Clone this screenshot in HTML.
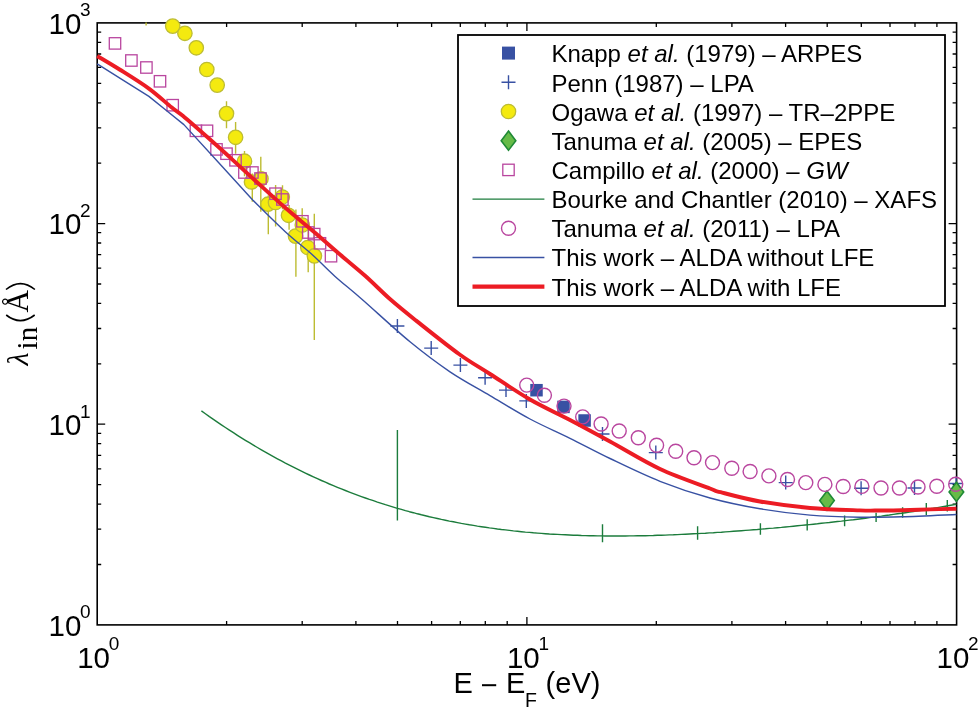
<!DOCTYPE html><html><head><meta charset="utf-8"><style>html,body{margin:0;padding:0;background:#fff;width:979px;height:709px;overflow:hidden}svg{display:block;will-change:transform}text{font-family:"Liberation Sans",sans-serif;fill:#000}.s{font-family:"Liberation Serif",serif}</style></head><body>
<svg width="979" height="709" viewBox="0 0 979 709">
<rect width="979" height="709" fill="#fff"/>
<rect x="97.2" y="22.9" width="859.4" height="602.0" fill="none" stroke="#000" stroke-width="1.6"/>
<path d="M226.6,624.9v-4M226.6,22.9v4M302.2,624.9v-4M302.2,22.9v4M355.9,624.9v-4M355.9,22.9v4M397.5,624.9v-4M397.5,22.9v4M431.6,624.9v-4M431.6,22.9v4M460.3,624.9v-4M460.3,22.9v4M485.3,624.9v-4M485.3,22.9v4M507.2,624.9v-4M507.2,22.9v4M526.9,624.9v-8M526.9,22.9v8M656.3,624.9v-4M656.3,22.9v4M731.9,624.9v-4M731.9,22.9v4M785.6,624.9v-4M785.6,22.9v4M827.2,624.9v-4M827.2,22.9v4M861.3,624.9v-4M861.3,22.9v4M890.0,624.9v-4M890.0,22.9v4M915.0,624.9v-4M915.0,22.9v4M936.9,624.9v-4M936.9,22.9v4M97.2,564.5h4M956.6,564.5h-4M97.2,529.2h4M956.6,529.2h-4M97.2,504.1h4M956.6,504.1h-4M97.2,484.6h4M956.6,484.6h-4M97.2,468.8h4M956.6,468.8h-4M97.2,455.3h4M956.6,455.3h-4M97.2,443.7h4M956.6,443.7h-4M97.2,433.4h4M956.6,433.4h-4M97.2,424.2h8M956.6,424.2h-8M97.2,363.8h4M956.6,363.8h-4M97.2,328.5h4M956.6,328.5h-4M97.2,303.4h4M956.6,303.4h-4M97.2,284.0h4M956.6,284.0h-4M97.2,268.1h4M956.6,268.1h-4M97.2,254.7h4M956.6,254.7h-4M97.2,243.0h4M956.6,243.0h-4M97.2,232.7h4M956.6,232.7h-4M97.2,223.6h8M956.6,223.6h-8M97.2,163.2h4M956.6,163.2h-4M97.2,127.8h4M956.6,127.8h-4M97.2,102.8h4M956.6,102.8h-4M97.2,83.3h4M956.6,83.3h-4M97.2,67.4h4M956.6,67.4h-4M97.2,54.0h4M956.6,54.0h-4M97.2,42.3h4M956.6,42.3h-4M97.2,32.1h4M956.6,32.1h-4" stroke="#000" stroke-width="1.3" fill="none"/>
<text x="48.5" y="635.6999999999999" font-size="29.5">10</text><text x="80.0" y="618.1999999999999" font-size="19">0</text>
<text x="48.5" y="435.03333333333336" font-size="29.5">10</text><text x="80.0" y="417.53333333333336" font-size="19">1</text>
<text x="48.5" y="234.36666666666667" font-size="29.5">10</text><text x="80.0" y="216.86666666666667" font-size="19">2</text>
<text x="48.5" y="33.699999999999974" font-size="29.5">10</text><text x="80.0" y="16.199999999999974" font-size="19">3</text>
<text x="77.2" y="667.5" font-size="29.5">10</text><text x="108.7" y="650.0" font-size="19">0</text>
<text x="506.9" y="667.5" font-size="29.5">10</text><text x="538.4" y="650.0" font-size="19">1</text>
<text x="936.6" y="667.5" font-size="29.5">10</text><text x="968.1" y="650.0" font-size="19">2</text>
<text x="453.6" y="692.5" font-size="29">E</text><rect x="482" y="684.2" width="14.2" height="2" fill="#000"/><text x="506" y="692.5" font-size="29">E</text><text x="525" y="706.5" font-size="19.5">F</text><text x="545.6" y="692.5" font-size="29">(eV)</text>
<g transform="translate(27.9,365) rotate(-90)"><text class="s" x="-0.5" y="0" font-size="30" font-style="italic">λ</text><text class="s" x="15.6" y="9.1" font-size="29">in</text><text class="s" x="52.5" y="0" font-size="31">Å</text></g>
<path d="M6.2,315Q20.3,326.2 34.7,315M6,289.5Q20.5,277.6 34.9,289.5" fill="none" stroke="#000" stroke-width="1.6"/>
<g fill="#3851a3"><rect x="530.25" y="383.95" width="12.5" height="12.5"/><rect x="557.25" y="400.65" width="12.5" height="12.5"/><rect x="578.35" y="414.25" width="12.5" height="12.5"/></g>
<path d="M390.4,326h14M397.4,319v14M424.2,348.1h14M431.2,341.1v14M453.4,365.1h14M460.4,358.1v14M478.1,377.8h14M485.1,370.8v14M499,390.1h14M506,383.1v14M519.3,400.9h14M526.3,393.9v14M595.5,434h14M602.5,427v14M648.8,452.6h14M655.8,445.6v14M778.7,482.6h14M785.7,475.6v14M854.1,488.2h14M861.1,481.2v14M907.5,488h14M914.5,481v14M949.1,483.5h14M956.1,476.5v14" stroke="#3851a3" stroke-width="1.4"/>
<path d="M146.1,22.6V25.4M226.5,101.2V128.3M235.6,122.1V153.7M244.5,151V176.2M252.3,173.6V201.7M260.8,156.8V211.8M268.3,195.2V234.3M275.6,185V226.5M282.5,185.2V209.2M289.1,205V229.8M295.9,209.5V276.8M302.2,208.2V231.7M308.2,220V272.2M314.3,213.8V340" stroke="#bdbc32" stroke-width="1.4"/>
<g fill="#f4ea0f" stroke="#bdbc32" stroke-width="1.3"><circle cx="172.7" cy="26.1" r="7.2"/><circle cx="184.9" cy="33.3" r="7.2"/><circle cx="196.3" cy="47.8" r="7.2"/><circle cx="206.8" cy="69.5" r="7.2"/><circle cx="217.2" cy="85.1" r="7.2"/><circle cx="226.5" cy="113.6" r="7.2"/><circle cx="235.6" cy="137.3" r="7.2"/><circle cx="244.5" cy="161.2" r="7.2"/><circle cx="251.5" cy="182" r="7.2"/><circle cx="261" cy="178.8" r="7.2"/><circle cx="268" cy="204.2" r="7.2"/><circle cx="275.5" cy="202.5" r="7.2"/><circle cx="282.3" cy="197" r="7.2"/><circle cx="288.5" cy="215.3" r="7.2"/><circle cx="295.5" cy="236.1" r="7.2"/><circle cx="302.3" cy="225" r="7.2"/><circle cx="307.8" cy="247.5" r="7.2"/><circle cx="314.4" cy="255.9" r="7.2"/></g>
<g fill="#66bb48" stroke="#1f8a36" stroke-width="1.6"><path d="M827,491.0L834.3,500.6L827,510.20000000000005L819.7,500.6Z"/><path d="M956.4,482.29999999999995L963.6999999999999,491.9L956.4,501.5L949.1,491.9Z"/></g>
<g fill="none" stroke="#b9469f" stroke-width="1.3"><rect x="109.30" y="37.70" width="11.4" height="11.4"/><rect x="125.70" y="54.80" width="11.4" height="11.4"/><rect x="140.70" y="61.80" width="11.4" height="11.4"/><rect x="154.30" y="75.60" width="11.4" height="11.4"/><rect x="167.00" y="99.50" width="11.4" height="11.4"/><rect x="190.20" y="125.10" width="11.4" height="11.4"/><rect x="201.30" y="125.10" width="11.4" height="11.4"/><rect x="210.80" y="143.70" width="11.4" height="11.4"/><rect x="220.80" y="148.00" width="11.4" height="11.4"/><rect x="229.80" y="154.60" width="11.4" height="11.4"/><rect x="238.70" y="166.80" width="11.4" height="11.4"/><rect x="246.70" y="166.80" width="11.4" height="11.4"/><rect x="254.80" y="172.80" width="11.4" height="11.4"/><rect x="269.80" y="188.00" width="11.4" height="11.4"/><rect x="276.70" y="193.80" width="11.4" height="11.4"/><rect x="296.70" y="215.60" width="11.4" height="11.4"/><rect x="302.60" y="226.80" width="11.4" height="11.4"/><rect x="308.50" y="228.40" width="11.4" height="11.4"/><rect x="314.30" y="237.60" width="11.4" height="11.4"/><rect x="325.30" y="250.50" width="11.4" height="11.4"/></g>
<path d="M201.4,410.9 L205.4,413.7 L209.4,416.6 L213.4,419.3 L217.4,422.1 L221.4,424.8 L225.4,427.5 L229.4,430.1 L233.4,432.7 L237.4,435.3 L241.4,437.8 L245.4,440.3 L249.4,442.7 L253.4,445.1 L257.4,447.5 L261.4,449.8 L265.4,452.1 L269.4,454.4 L273.4,456.6 L277.4,458.8 L281.4,460.9 L285.4,463.1 L289.4,465.1 L293.4,467.2 L297.4,469.2 L301.4,471.1 L305.4,473.1 L309.4,475.0 L313.4,476.8 L317.4,478.7 L321.4,480.5 L325.4,482.2 L329.4,484.0 L333.4,485.6 L337.4,487.3 L341.4,488.9 L345.4,490.5 L349.4,492.1 L353.4,493.6 L357.4,495.1 L361.4,496.6 L365.4,498.0 L369.4,499.4 L373.4,500.7 L377.4,502.1 L381.4,503.4 L385.4,504.7 L389.4,505.9 L393.4,507.1 L397.4,508.3 L401.4,509.4 L405.4,510.6 L409.4,511.7 L413.4,512.7 L417.4,513.8 L421.4,514.8 L425.4,515.7 L429.4,516.7 L433.4,517.6 L437.4,518.5 L441.4,519.4 L445.4,520.2 L449.4,521.1 L453.4,521.8 L457.4,522.6 L461.4,523.4 L465.4,524.1 L469.4,524.8 L473.4,525.4 L477.4,526.1 L481.4,526.7 L485.4,527.3 L489.4,527.9 L493.4,528.4 L497.4,529.0 L501.4,529.5 L505.4,529.9 L509.4,530.4 L513.4,530.9 L517.4,531.3 L521.4,531.7 L525.4,532.1 L529.4,532.4 L533.4,532.8 L537.4,533.1 L541.4,533.4 L545.4,533.7 L549.4,534.0 L553.4,534.2 L557.4,534.4 L561.4,534.6 L565.4,534.8 L569.4,535.0 L573.4,535.2 L577.4,535.3 L581.4,535.5 L585.4,535.6 L589.4,535.7 L593.4,535.8 L597.4,535.9 L601.4,535.9 L605.4,536.0 L609.4,536.0 L613.4,536.0 L617.4,536.0 L621.4,536.0 L625.4,536.0 L629.4,535.9 L633.4,535.9 L637.4,535.8 L641.4,535.7 L645.4,535.7 L649.4,535.6 L653.4,535.5 L657.4,535.3 L661.4,535.2 L665.4,535.1 L669.4,534.9 L673.4,534.8 L677.4,534.6 L681.4,534.4 L685.4,534.2 L689.4,534.0 L693.4,533.8 L697.4,533.6 L701.4,533.4 L705.4,533.2 L709.4,532.9 L713.4,532.7 L717.4,532.4 L721.4,532.2 L725.4,531.9 L729.4,531.6 L733.4,531.3 L737.4,531.0 L741.4,530.7 L745.4,530.4 L749.4,530.1 L753.4,529.8 L757.4,529.5 L761.4,529.1 L765.4,528.8 L769.4,528.4 L773.4,528.1 L777.4,527.7 L781.4,527.4 L785.4,527.0 L789.4,526.6 L793.4,526.2 L797.4,525.8 L801.4,525.4 L805.4,525.0 L809.4,524.6 L813.4,524.2 L817.4,523.8 L821.4,523.3 L825.4,522.9 L829.4,522.5 L833.4,522.0 L837.4,521.5 L841.4,521.1 L845.4,520.6 L849.4,520.1 L853.4,519.7 L857.4,519.2 L861.4,518.7 L865.4,518.2 L869.4,517.6 L873.4,517.1 L877.4,516.6 L881.4,516.1 L885.4,515.5 L889.4,515.0 L893.4,514.4 L897.4,513.8 L901.4,513.3 L905.4,512.7 L909.4,512.1 L913.4,511.5 L917.4,510.8 L921.4,510.2 L925.4,509.6 L929.4,508.9 L933.4,508.3 L937.4,507.6 L941.4,506.9 L945.4,506.2 L949.4,505.5 L953.4,504.8 L956.4,504.2" fill="none" stroke="#1c7c3c" stroke-width="1.4" stroke-linejoin="round"/>
<path d="M397.4,429.9V520.6M602.5,524.3V542.2M697.6,526.2V539.8M760.4,523.2V534.8M807.2,519.2V530.5M844.6,515.4V526.3M876.1,512.8V521.9M902.6,507.3V517.7M926.3,503.1V514.9M947.3,500V511.5" stroke="#1c7c3c" stroke-width="1.4"/>
<g fill="none" stroke="#b9469f" stroke-width="1.4"><circle cx="526.7" cy="385.1" r="7.0"/><circle cx="544.4" cy="395.2" r="7.0"/><circle cx="564" cy="406.1" r="7.0"/><circle cx="582.7" cy="416.9" r="7.0"/><circle cx="601.1" cy="424" r="7.0"/><circle cx="619.2" cy="431" r="7.0"/><circle cx="638.3" cy="437.8" r="7.0"/><circle cx="656.6" cy="445.2" r="7.0"/><circle cx="675.7" cy="451.3" r="7.0"/><circle cx="694" cy="457.8" r="7.0"/><circle cx="712.5" cy="462.6" r="7.0"/><circle cx="731.8" cy="468.2" r="7.0"/><circle cx="750.1" cy="471.5" r="7.0"/><circle cx="768.9" cy="475.9" r="7.0"/><circle cx="787.5" cy="479.5" r="7.0"/><circle cx="805.8" cy="482.6" r="7.0"/><circle cx="824.9" cy="484.4" r="7.0"/><circle cx="843.2" cy="486.5" r="7.0"/><circle cx="861.9" cy="486.4" r="7.0"/><circle cx="881" cy="488" r="7.0"/><circle cx="899.4" cy="488" r="7.0"/><circle cx="918" cy="487" r="7.0"/><circle cx="936.8" cy="486.3" r="7.0"/><circle cx="955.7" cy="484.2" r="7.0"/></g>
<path d="M97.2,63.9 L123,80.1 L148.9,96.4 L166.4,110.5 L183.9,124.6 L218.3,162.3 L252.7,200C258.08,205.23 275.02,222.23 285.00,231.40C294.98,240.57 304.25,247.50 312.60,255.00C320.95,262.50 326.83,268.98 335.10,276.40C343.37,283.82 349.72,288.60 362.20,299.50C374.68,310.40 395.37,329.75 410.00,341.80C424.63,353.85 436.67,362.83 450.00,371.80C463.33,380.77 476.67,387.73 490.00,395.60C503.33,403.47 516.67,411.88 530.00,419.00C543.33,426.12 556.67,431.72 570.00,438.30C583.33,444.88 595.00,451.33 610.00,458.50C625.00,465.67 643.33,474.72 660.00,481.30C676.67,487.88 693.33,493.42 710.00,498.00C726.67,502.58 743.33,505.95 760.00,508.80C776.67,511.65 793.33,513.70 810.00,515.10C826.67,516.50 844.68,516.92 860.00,517.20C875.32,517.48 885.83,517.25 901.90,516.80C917.97,516.35 947.32,514.88 956.40,514.50" fill="none" stroke="#3851a3" stroke-width="1.4" stroke-linejoin="round"/>
<path d="M97.20,56.00C100.93,58.25 110.98,64.07 119.60,69.50C128.22,74.93 140.25,82.30 148.90,88.60C157.55,94.90 165.85,102.77 171.50,107.30C177.15,111.83 176.42,110.47 182.80,115.80C189.18,121.13 201.53,132.00 209.80,139.30C218.07,146.60 224.53,152.45 232.40,159.60C240.27,166.75 248.23,174.22 257.00,182.20C265.77,190.18 275.33,199.08 285.00,207.50C294.67,215.92 305.83,224.87 315.00,232.70C324.17,240.53 331.60,247.28 340.00,254.50C348.40,261.72 356.93,268.45 365.40,276.00C373.87,283.55 382.35,292.37 390.80,299.80C399.25,307.23 404.73,311.57 416.10,320.60C427.47,329.63 446.68,345.10 459.00,354.00C471.32,362.90 478.17,366.42 490.00,374.00C501.83,381.58 516.67,391.83 530.00,399.50C543.33,407.17 556.67,413.00 570.00,420.00C583.33,427.00 595.00,433.33 610.00,441.50C625.00,449.67 643.33,461.17 660.00,469.00C676.67,476.83 699.90,484.63 710.00,488.50C720.10,492.37 712.27,490.03 720.60,492.20C728.93,494.37 745.10,498.87 760.00,501.50C774.90,504.13 793.33,506.52 810.00,508.00C826.67,509.48 848.33,509.98 860.00,510.40C871.67,510.82 873.02,510.52 880.00,510.50C886.98,510.48 893.60,510.48 901.90,510.30C910.20,510.12 920.72,509.67 929.80,509.40C938.88,509.13 951.97,508.82 956.40,508.70" fill="none" stroke="#ec1c24" stroke-width="3.9" stroke-linejoin="round"/>
<rect x="458" y="35" width="487" height="271" fill="#fff" stroke="#000" stroke-width="1.8"/>
<rect x="502.0" y="46.6" width="13" height="13" fill="#3851a3"/>
<path d="M501.5,82.3h14M508.5,75.3v14" stroke="#3851a3" stroke-width="1.4"/>
<circle cx="508.5" cy="111.5" r="7.2" fill="#f4ea0f" stroke="#bdbc32" stroke-width="1.3"/>
<path d="M508.5,131.1L515.8,140.7L508.5,150.29999999999998L501.2,140.7Z" fill="#66bb48" stroke="#1f8a36" stroke-width="1.6"/>
<rect x="502.8" y="164.20000000000002" width="11.4" height="11.4" fill="none" stroke="#b9469f" stroke-width="1.3"/>
<path d="M472.5,199.1H544.4" stroke="#1c7c3c" stroke-width="1.4"/>
<circle cx="508.5" cy="228.29999999999998" r="7.0" fill="none" stroke="#b9469f" stroke-width="1.4"/>
<path d="M472.5,257.5H544.4" stroke="#3851a3" stroke-width="1.4"/>
<path d="M472.5,286.7H544.4" stroke="#ec1c24" stroke-width="4.2"/>
<text x="551.5" y="62.4" font-size="24">Knapp <tspan font-style="italic">et al.</tspan> (1979) – ARPES</text>
<text x="551.5" y="91.5" font-size="24">Penn (1987) – LPA</text>
<text x="551.5" y="120.7" font-size="24">Ogawa <tspan font-style="italic">et al.</tspan> (1997) – TR–2PPE</text>
<text x="551.5" y="149.8" font-size="24">Tanuma <tspan font-style="italic">et al.</tspan> (2005) – EPES</text>
<text x="551.5" y="179.0" font-size="24">Campillo <tspan font-style="italic">et al.</tspan> (2000) – <tspan font-style="italic">GW</tspan></text>
<text x="551.5" y="208.2" font-size="24">Bourke and Chantler (2010) – XAFS</text>
<text x="551.5" y="237.3" font-size="24">Tanuma <tspan font-style="italic">et al.</tspan> (2011) – LPA</text>
<text x="551.5" y="266.4" font-size="24">This work – ALDA without LFE</text>
<text x="551.5" y="295.6" font-size="24">This work – ALDA with LFE</text>
</svg></body></html>
